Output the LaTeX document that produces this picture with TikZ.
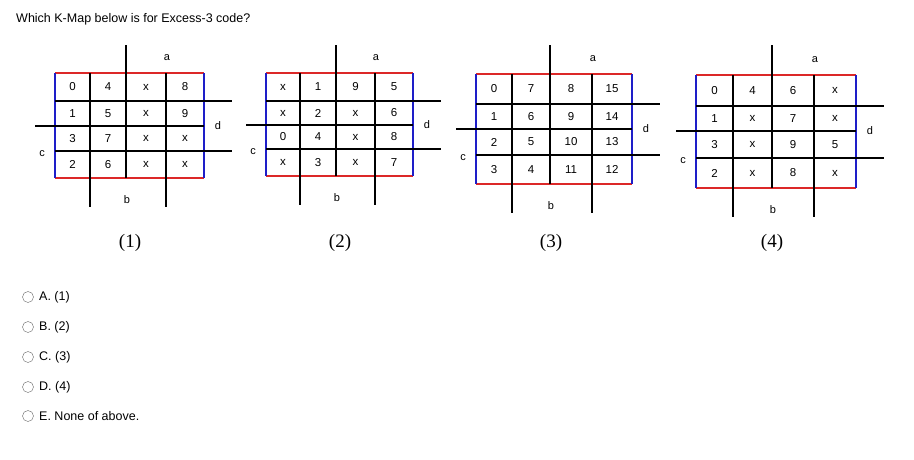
\documentclass[tikz,border=0pt]{standalone}
\usepackage{fontspec}
\setmainfont{Liberation Sans}
\newfontfamily\serifnum{Liberation Serif}
\definecolor{kred}{RGB}{220,40,40}
\definecolor{kblue}{RGB}{30,30,200}
\def\setcols(#1,#2,#3,#4,#5){\def\xa{#1}\def\xb{#2}\def\xc{#3}\def\xd{#4}\def\xe{#5}}
\def\setrows(#1,#2,#3,#4,#5){\def\ya{#1}\def\yb{#2}\def\yc{#3}\def\yd{#4}\def\ye{#5}}
\newcommand\krowx[6]{% #1 ytop #2 ybot #3-#6 entries
  \path (\xa,#1) -- (\xb,#2) node[midway,cell]{#3};
  \path (\xb,#1) -- (\xc,#2) node[midway,cell]{#4};
  \path (\xc,#1) -- (\xd,#2) node[midway,cell]{#5};
  \path (\xd,#1) -- (\xe,#2) node[midway,cell]{#6};}
\newcommand\kframe{%
  \draw[kred,line width=1.2pt] (\xa,\ya) -- (\xe,\ya) (\xa,\ye) -- (\xe,\ye);
  \draw[kblue,line width=1.2pt] (\xa,\ya) -- (\xa,\ye) (\xe,\ya) -- (\xe,\ye);
  \draw[line width=1.1pt] (\xc,45) -- (\xc,\ye);
  \draw[line width=1.1pt] (\xb,\ya) -- (\xb,\ye+29) (\xd,\ya) -- (\xd,\ye+29);
  \draw[line width=1.1pt] (\xa,\yb) -- (\xe+28,\yb) (\xa,\yd) -- (\xe+28,\yd);
  \draw[line width=1.1pt] (\xa-20,\yc) -- (\xe,\yc);
  \node[lbl] at (\xd+1,\ya-15) {a};
  \node[lbl] at (\xe+14,\yc) {d};
  \node[lbl] at (\xa-13,\yd+3) {c};
  \node[lbl] at (\xc+1,\ye+22) {b};}
\begin{document}
\begin{tikzpicture}[x=1pt,y=-1pt,
  cell/.style={font=\fontsize{11.5}{13}\selectfont,inner sep=0pt},
  lbl/.style={font=\fontsize{11}{13}\selectfont,inner sep=0pt},
  num/.style={font=\serifnum\fontsize{19}{22}\selectfont,inner sep=0pt},
  opt/.style={font=\fontsize{12.5}{15}\selectfont,anchor=west,inner sep=0pt},
  radio/.style={circle,draw=black!60,minimum size=11pt,inner sep=0pt}]
\useasboundingbox (0,0) rectangle (914,459);
\node[anchor=west,inner sep=0pt,font=\fontsize{12.5}{15}\selectfont] (title) at (16,19) {Which K-Map below is for Excess-3 code?};
% map 1
\setcols(55,90,126,166,204)\setrows(73,101,126,151,178)
\kframe
\krowx{\ya}{\yb}{0}{4}{x}{8}
\krowx{\yb}{\yc}{1}{5}{x}{9}
\krowx{\yc}{\yd}{3}{7}{x}{x}
\krowx{\yd}{\ye}{2}{6}{x}{x}
\node[num] (n1) at (130,243) {(1)};
% map 2
\setcols(266,300,336,375,413)\setrows(73,101,125,149,176)
\kframe
\krowx{\ya}{\yb}{x}{1}{9}{5}
\krowx{\yb}{\yc}{x}{2}{x}{6}
\krowx{\yc}{\yd}{0}{4}{x}{8}
\krowx{\yd}{\ye}{x}{3}{x}{7}
\node[num] (n2) at (340,243) {(2)};
% map 3
\setcols(476,512,550,592,632)\setrows(74,104,129,155,184)
\kframe
\krowx{\ya}{\yb}{0}{7}{8}{15}
\krowx{\yb}{\yc}{1}{6}{9}{14}
\krowx{\yc}{\yd}{2}{5}{10}{13}
\krowx{\yd}{\ye}{3}{4}{11}{12}
\node[num] (n3) at (551,243) {(3)};
% map 4
\setcols(696,733,772,814,856)\setrows(75,106,131,158,188)
\kframe
\krowx{\ya}{\yb}{0}{4}{6}{x}
\krowx{\yb}{\yc}{1}{x}{7}{x}
\krowx{\yc}{\yd}{3}{x}{9}{5}
\krowx{\yd}{\ye}{2}{x}{8}{x}
\node[num] (n4) at (772,243) {(4)};
% options
\foreach \t/\y [count=\i] in {A. (1)/297, B. (2)/327, C. (3)/357, D. (4)/387, E. None of above./416}{
  \node[radio] (r\i) at (28,\y) {};
  \node[opt] (o\i) at (39,\y) {\t};
}
\end{tikzpicture}
\end{document}
